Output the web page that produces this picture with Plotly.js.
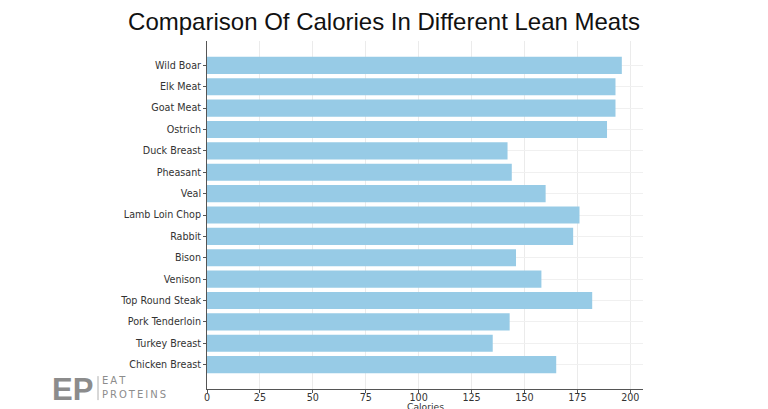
<!DOCTYPE html>
<html>
<head>
<meta charset="utf-8">
<script src="https://cdn.plot.ly/plotly-3.0.1.min.js"></script>
<style>
  html, body { margin: 0; padding: 0; background: #fff; }
  #chart { width: 768px; height: 409px; }
</style>
</head>
<body>
<div id="chart"></div>
<script>
'use strict';

// bottom to top, as drawn
var meats = ['Chicken Breast', 'Turkey Breast', 'Pork Tenderloin', 'Top Round Steak', 'Venison',
  'Bison', 'Rabbit', 'Lamb Loin Chop', 'Veal', 'Pheasant', 'Duck Breast', 'Ostrich',
  'Goat Meat', 'Elk Meat', 'Wild Boar'];
var calories = [165, 135, 143, 182, 158, 146, 173, 176, 160, 144, 142, 189, 193, 193, 196];
var xTicks = [0, 25, 50, 75, 100, 125, 150, 175, 200];

var bars = [{
  type: 'bar',
  orientation: 'h',
  x: calories,
  y: meats,
  marker: { color: '#97cbe6', line: { width: 0 } },
  hoverinfo: 'x+y'
}];

var thin = '\u2009';
var grey = '#8c8c8c';
var layout = {
  width: 768,
  height: 409,
  margin: { l: 207, r: 125, t: 41, b: 20 },
  paper_bgcolor: '#fff',
  plot_bgcolor: '#fff',
  showlegend: false,
  bargap: 0.2,
  font: { family: 'DejaVu Sans', size: 9.6, color: '#333' },
  title: {
    text: 'Comparison Of Calories In Different Lean Meats',
    font: { family: 'Liberation Sans, Arial', size: 24, color: '#111' },
    x: 0.5, xref: 'container', y: 0.946, yref: 'container',
    xanchor: 'center', yanchor: 'middle'
  },
  xaxis: {
    range: [0, 206],
    tickvals: xTicks,
    ticktext: xTicks.map(String),
    showgrid: true,
    gridcolor: '#ebebeb',
    gridwidth: 1,
    zeroline: false,
    showline: true,
    linecolor: '#555',
    linewidth: 1,
    ticks: 'outside',
    ticklen: 3,
    tickcolor: '#555',
    ticklabelstandoff: -4,
    tickfont: { size: 9.6, color: '#333' },
    automargin: false
  },
  yaxis: {
    type: 'category',
    categoryorder: 'array',
    categoryarray: meats,
    range: [-1.14, 15.14],
    showgrid: true,
    gridcolor: '#f0f0f0',
    gridwidth: 1,
    zeroline: false,
    showline: true,
    linecolor: '#555',
    linewidth: 1,
    ticks: 'outside',
    ticklen: 3,
    tickcolor: '#555',
    tickfont: { size: 9.6, color: '#333' },
    automargin: false
  },
  annotations: [
    {
      text: 'Calories', xref: 'paper', yref: 'paper', x: 0.5, y: -0.049,
      xanchor: 'center', yanchor: 'middle', showarrow: false, borderpad: 0,
      font: { size: 9.2, color: '#333' }
    },
    {
      text: '<b>EP</b>', xref: 'paper', yref: 'paper', x: -0.36, y: 0.0,
      xanchor: 'left', yanchor: 'middle', showarrow: false,
      font: { family: 'Liberation Sans, Arial', size: 31, color: grey }
    },
    {
      text: ['E', 'A', 'T'].join(thin), xref: 'paper', yref: 'paper', x: -0.245, y: 0.023,
      xanchor: 'left', yanchor: 'middle', showarrow: false,
      font: { family: 'DejaVu Sans', size: 10, color: grey }
    },
    {
      text: 'PROTEINS'.split('').join(thin), xref: 'paper', yref: 'paper', x: -0.245, y: -0.016,
      xanchor: 'left', yanchor: 'middle', showarrow: false,
      font: { family: 'DejaVu Sans', size: 10, color: grey }
    }
  ],
  shapes: [
    {
      type: 'line', xref: 'paper', yref: 'paper', x0: -0.25, x1: -0.25, y0: 0.037, y1: -0.032,
      line: { color: '#b0b0b0', width: 1 }
    }
  ]
};

Plotly.newPlot('chart', bars, layout, { displayModeBar: false, staticPlot: true });
</script>
</body>
</html>
